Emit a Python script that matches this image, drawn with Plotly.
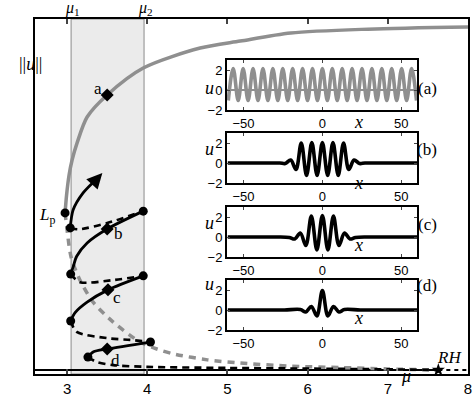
import plotly.graph_objects as go

# ---------------- data: bifurcation diagram ----------------
mu_per_stable = [2.975, 2.994, 3.025, 3.0625, 3.125, 3.25, 3.5, 3.95, 4.66, 5.16, 5.79, 6.75, 8.0]
nrm_per_stable = [4.49, 5.0, 5.57, 6.0, 6.49, 7.23, 7.86, 8.63, 9.2, 9.4, 9.63, 9.74, 9.8]
mu_per_unstable = [2.975, 2.996, 3.05, 3.16, 3.325, 3.575, 3.91, 4.12, 4.33, 4.75, 5.16, 5.79, 6.42, 7.0, 7.63]
nrm_per_unstable = [4.49, 4.09, 3.23, 2.57, 1.94, 1.37, 0.8, 0.6, 0.46, 0.29, 0.2, 0.11, 0.07, 0.03, 0.0]

# snaking branch, solid (stable) pieces
mu_s0 = [3.04, 3.075, 3.2, 3.38]
nrm_s0 = [4.06, 4.57, 5.06, 5.48]
mu_s1 = [3.95, 3.5, 3.25, 3.12, 3.075, 3.045]
nrm_s1 = [4.54, 4.03, 3.63, 3.25, 2.94, 2.74]
mu_s2 = [3.95, 3.51, 3.25, 3.1, 3.045]
nrm_s2 = [2.69, 2.29, 1.94, 1.64, 1.4]
mu_s3 = [4.04, 3.5, 3.33, 3.26]
nrm_s3 = [0.8, 0.6, 0.52, 0.37]
# snaking branch, dashed (unstable) pieces
mu_u1 = [3.04, 3.14, 3.5, 3.95]
nrm_u1 = [4.06, 4.02, 4.2, 4.54]
mu_u2 = [3.045, 3.16, 3.575, 3.95]
nrm_u2 = [2.74, 2.51, 2.57, 2.69]
mu_u3 = [3.045, 3.12, 3.5, 3.79, 4.04]
nrm_u3 = [1.4, 1.09, 0.91, 0.86, 0.8]
mu_u4 = [3.26, 3.37, 3.575, 4.0, 5.0, 6.0, 7.0, 7.63]
nrm_u4 = [0.37, 0.23, 0.14, 0.09, 0.06, 0.04, 0.02, 0.0]

# folds (dots) and labelled solutions (diamonds)
mu_dots = [2.975, 3.04, 3.95, 3.045, 3.95, 3.045, 4.04, 3.26]
nrm_dots = [4.49, 4.06, 4.54, 2.74, 2.69, 1.4, 0.8, 0.37]
mu_diam = [3.5, 3.5, 3.51, 3.5]
nrm_diam = [7.86, 4.03, 2.29, 0.6]
diam_labels = ["a", "b", "c", "d"]

mu_rh = 7.63
mu_1, mu_2 = 3.05, 3.96
mu_ticks = [3, 4, 5, 6, 7, 8]

# ---------------- data: profiles in the insets ----------------
a_x = [-59.69, -56.55, -53.41, -50.27, -47.12, -43.98, -40.84, -37.70, -34.56, -31.42,
       -28.27, -25.13, -21.99, -18.85, -15.71, -12.57, -9.42, -6.28, -3.14, 0.0,
       3.14, 6.28, 9.42, 12.57, 15.71, 18.85, 21.99, 25.13, 28.27, 31.42,
       34.56, 37.70, 40.84, 43.98, 47.12, 50.27, 53.41, 56.55, 59.69]
a_u = [-1.05, 2.15, -1.05, 2.15, -1.05, 2.15, -1.05, 2.15, -1.05, 2.15,
       -1.05, 2.15, -1.05, 2.15, -1.05, 2.15, -1.05, 2.15, -1.05, 2.15,
       -1.05, 2.15, -1.05, 2.15, -1.05, 2.15, -1.05, 2.15, -1.05, 2.15,
       -1.05, 2.15, -1.05, 2.15, -1.05, 2.15, -1.05, 2.15, -1.05]
b_x = [-60, -35, -27, -23.5, -20.1, -16.75, -13.4, -10.05, -6.7, -3.35, 0,
       3.35, 6.7, 10.05, 13.4, 16.75, 20.1, 23.5, 27, 35, 60]
b_u = [0, 0, 0, -0.05, 0.3, -0.65, 2.0, -1.25, 2.05, -1.25, 2.05,
       -1.25, 2.05, -1.25, 2.0, -0.65, 0.3, -0.05, 0, 0, 0]
c_x = [-60, -35, -28, -21, -17.5, -14, -10.5, -7, -3.5, 0, 3.5, 7, 10.5, 14, 17.5, 21, 28, 35, 60]
c_u = [0, 0, 0, -0.05, -0.2, 0.4, -0.85, 2.1, -1.3, 2.15, -1.3, 2.1, -0.85, 0.4, -0.2, -0.05, 0, 0, 0]
d_x = [-60, -35, -24, -14, -10.5, -7, -3.5, 0, 3.5, 7, 10.5, 14, 24, 35, 60]
d_u = [0, 0, 0, 0.05, -0.2, 0.35, -0.6, 1.95, -0.6, 0.35, -0.2, 0.05, 0, 0, 0]
inset_tags = ["(a)", "(b)", "(c)", "(d)"]

# ---------------- layout geometry (pixels) ----------------
W, H = 474, 397
ML, MR, MT, MB = 35, 6, 19, 23
PW, PH = W - ML - MR, H - MT - MB


def px2paper_x(px):
    return (px - ML) / PW


def px2paper_y(py):
    return (H - MB - py) / PH


SERIF = "Liberation Serif"
SANS = "Liberation Sans"
GRAY = "#8f8f8f"

fig = go.Figure()

# trivial state
fig.add_trace(go.Scatter(x=[2.6, mu_rh], y=[0, 0], mode="lines",
                         line=dict(color="black", width=2.2), hoverinfo="skip", showlegend=False))
fig.add_trace(go.Scatter(x=[mu_rh, 8.0], y=[0, 0], mode="lines",
                         line=dict(color="black", width=2.2, dash="4px,4px"), hoverinfo="skip", showlegend=False))

# periodic branch
fig.add_trace(go.Scatter(x=mu_per_unstable, y=nrm_per_unstable, mode="lines",
                         line=dict(color=GRAY, width=3.5, dash="7px,6px", shape="spline", smoothing=0.8),
                         showlegend=False))
fig.add_trace(go.Scatter(x=mu_per_stable, y=nrm_per_stable, mode="lines",
                         line=dict(color=GRAY, width=3.5, shape="spline", smoothing=0.8),
                         showlegend=False))

# snaking branch
for xs, ys in [(mu_u1, nrm_u1), (mu_u2, nrm_u2), (mu_u3, nrm_u3), (mu_u4, nrm_u4)]:
    fig.add_trace(go.Scatter(x=xs, y=ys, mode="lines",
                             line=dict(color="black", width=2.6, dash="7px,5px", shape="spline", smoothing=0.8),
                             showlegend=False))
for xs, ys in [(mu_s0, nrm_s0), (mu_s1, nrm_s1), (mu_s2, nrm_s2), (mu_s3, nrm_s3)]:
    fig.add_trace(go.Scatter(x=xs, y=ys, mode="lines",
                             line=dict(color="black", width=2.8, shape="spline", smoothing=0.8),
                             showlegend=False))

fig.add_trace(go.Scatter(x=mu_dots, y=nrm_dots, mode="markers",
                         marker=dict(color="black", size=9, symbol="circle"), showlegend=False))
fig.add_trace(go.Scatter(x=mu_diam, y=nrm_diam, mode="markers",
                         marker=dict(color="black", size=10, symbol="diamond"), showlegend=False))
fig.add_trace(go.Scatter(x=[mu_rh], y=[0], mode="markers",
                         marker=dict(color="black", size=10, symbol="star"), showlegend=False))

# arrow at the end of the first branch
fig.add_annotation(x=3.44, y=5.63, ax=mu_s0[-1] - 0.04, ay=nrm_s0[-1] - 0.1,
                   xref="x", yref="y", axref="x", ayref="y", text="",
                   showarrow=True, arrowhead=2, arrowsize=1.1, arrowwidth=2.8, arrowcolor="black", standoff=0)

# labels for diamonds
lab_pos = [(3.455, 8.05, "right"), (3.64, 3.9, "center"), (3.62, 2.06, "center"), (3.61, 0.27, "center")]
for (lx, ly, anc), t in zip(lab_pos, diam_labels):
    fig.add_annotation(x=lx, y=ly, text=t, showarrow=False, xanchor=anc,
                       font=dict(family=SERIF, size=17, color="black"))

fig.add_annotation(x=2.745, y=4.4, text="<i>L</i><sub>p</sub>", showarrow=False,
                   font=dict(family=SERIF, size=17, color="black"))
fig.add_annotation(x=7.77, y=0.36, text="<i>RH</i>", showarrow=False,
                   font=dict(family=SERIF, size=17, color="black"))
fig.add_annotation(x=px2paper_x(413), y=px2paper_y(388), xref="paper", yref="paper",
                   text="<i>μ</i>", showarrow=False, font=dict(family=SERIF, size=18, color="black"))
fig.add_annotation(x=px2paper_x(17), y=px2paper_y(52), xref="paper", yref="paper",
                   text="||<i>u</i>||", showarrow=False, font=dict(family=SERIF, size=18, color="black"))
for m, t in [(mu_1, "<i>μ</i><sub>1</sub>"), (mu_2, "<i>μ</i><sub>2</sub>")]:
    fig.add_annotation(x=m + 0.02, y=px2paper_y(8), xref="x", yref="paper", yanchor="middle",
                       text=t, showarrow=False, font=dict(family=SERIF, size=16, color="black"))

# shaded snaking region
fig.add_shape(type="rect", x0=mu_1, x1=mu_2, y0=0, y1=1, xref="x", yref="paper",
              fillcolor="#ebebeb", line=dict(color="#8a8a8a", width=1), layer="below")

fig.update_layout(
    xaxis=dict(range=[2.6, 8.0], tickvals=mu_ticks, ticks="inside", ticklen=5, tickwidth=1.5,
               showline=True, linecolor="black", linewidth=2.4, mirror="ticks", showgrid=False,
               zeroline=False, tickfont=dict(family=SANS, size=15, color="black"), domain=[0, 1]),
    yaxis=dict(range=[-0.114, 10.03], showticklabels=False, ticks="", showline=True,
               linecolor="black", linewidth=2.4, mirror=True, showgrid=False, zeroline=False, domain=[0, 1]),
)

# insets
inset_tops = [60, 133, 207, 280]
profiles = [(a_x, a_u, GRAY), (b_x, b_u, "black"), (c_x, c_u, "black"), (d_x, d_u, "black")]
for i, ((xs, us, col), top, tag) in enumerate(zip(profiles, inset_tops, inset_tags)):
    n = i + 2
    xa, ya = f"x{n}", f"y{n}"
    fig.add_trace(go.Scatter(x=xs, y=us, mode="lines", xaxis=xa, yaxis=ya,
                             line=dict(color=col, width=3.6, shape="spline", smoothing=1.0),
                             showlegend=False))
    fig.layout[f"xaxis{n}"] = dict(
        domain=[px2paper_x(227), px2paper_x(417)], anchor=ya, range=[-60.5, 60],
        tickvals=[-50, 0, 50], ticktext=["−50", "0", "50"], ticks="inside", ticklen=3,
        showline=True, linecolor="black", linewidth=2, mirror="ticks", showgrid=False, zeroline=False,
        tickfont=dict(family=SANS, size=13, color="black"))
    fig.layout[f"yaxis{n}"] = dict(
        domain=[px2paper_y(top + 50), px2paper_y(top)], anchor=xa, range=[-2, 3],
        tickvals=[-2, 0, 2], ticktext=["−2", "0", "2"], ticks="inside", ticklen=3,
        showline=True, linecolor="black", linewidth=2, mirror="ticks", showgrid=False,
        zeroline=(n == 2), zerolinecolor=GRAY, zerolinewidth=1.5,
        tickfont=dict(family=SANS, size=13, color="black"))
    fig.add_annotation(x=px2paper_x(209), y=px2paper_y(top + 16), xref="paper", yref="paper",
                       text="<i>u</i>", showarrow=False, font=dict(family=SERIF, size=18, color="black"))
    fig.add_annotation(x=px2paper_x(365), y=px2paper_y(top + 50), xref="paper", yref="paper",
                       text="<i>x</i>", showarrow=False, font=dict(family=SERIF, size=18, color="black"))
    fig.add_annotation(x=px2paper_x(439), y=px2paper_y(top + 17), xref="paper", yref="paper",
                       text=tag, showarrow=False, font=dict(family=SERIF, size=17, color="black"))

fig.update_layout(width=W, height=H, margin=dict(l=ML, r=MR, t=MT, b=MB, autoexpand=False),
                  paper_bgcolor="white", plot_bgcolor="white", showlegend=False)

fig.write_html("out.html", config={"displayModeBar": False},
               post_script="document.body.style.margin='0px';")
